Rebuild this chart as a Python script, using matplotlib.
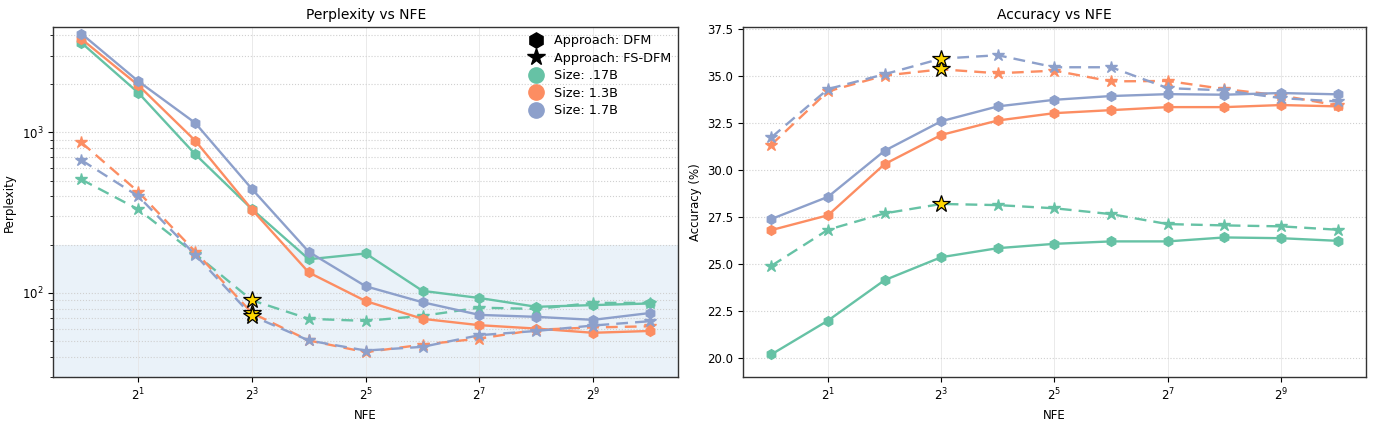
import matplotlib
matplotlib.use("Agg")
import matplotlib.pyplot as plt
from matplotlib.lines import Line2D
import numpy as np

nfe = [1, 2, 4, 8, 16, 32, 64, 128, 256, 512, 1024]
sizes = [".17B", "1.3B", "1.7B"]
colors = {".17B": "#66c2a5", "1.3B": "#fc8d62", "1.7B": "#8da0cb"}

ppl_dfm = {
    ".17B": [3600, 1760, 730, 332, 162, 176, 103, 93, 82, 84, 86],
    "1.3B": [3800, 1960, 887, 330, 134, 89, 69, 63, 60, 56.5, 58],
    "1.7B": [4100, 2075, 1143, 443, 180, 110, 87.5, 73, 71, 68, 75],
}
ppl_fs = {
    ".17B": [508, 331, 175, 90, 69, 67, 72, 81, 79.5, 86.7, 86.7],
    "1.3B": [863, 426, 181, 75, 50.6, 42.8, 47.7, 52, 59, 61, 62],
    "1.7B": [670, 400, 173, 72, 50.6, 43.8, 46.2, 54.6, 58, 62.7, 66.7],
}
acc_dfm = {
    ".17B": [20.2, 22.0, 24.15, 25.37, 25.85, 26.08, 26.21, 26.21, 26.42, 26.38, 26.24],
    "1.3B": [26.81, 27.6, 30.32, 31.87, 32.64, 33.03, 33.19, 33.35, 33.35, 33.46, 33.39],
    "1.7B": [27.4, 28.58, 31.03, 32.6, 33.39, 33.74, 33.94, 34.04, 34.01, 34.10, 34.03],
}
acc_fs = {
    ".17B": [24.91, 26.83, 27.70, 28.2, 28.14, 27.97, 27.66, 27.13, 27.06, 27.01, 26.83],
    "1.3B": [31.35, 34.19, 35.03, 35.36, 35.15, 35.29, 34.72, 34.74, 34.31, 33.97, 33.44],
    "1.7B": [31.74, 34.31, 35.10, 35.93, 36.11, 35.47, 35.47, 34.36, 34.24, 33.83, 33.65],
}
highlight_nfe = 8

fig = plt.figure(figsize=(13.76, 4.25), dpi=100)
ax1 = fig.add_axes([0.0385, 0.113, 0.4545, 0.823])
ax2 = fig.add_axes([0.540, 0.113, 0.4527, 0.823])

def draw(ax, dfm, fs):
    for s in sizes:
        ax.plot(nfe, dfm[s], color=colors[s], marker="h", markersize=7,
                linewidth=1.7, linestyle="-", zorder=3)
        ax.plot(nfe, fs[s], color=colors[s], marker="*", markersize=9,
                linewidth=1.7, linestyle=(0, (5, 3)), zorder=3)
    hi = nfe.index(highlight_nfe)
    for s in sizes:
        ax.plot([nfe[hi]], [fs[s][hi]], marker="*", markersize=13,
                markerfacecolor="#FFD700", markeredgecolor="black",
                markeredgewidth=0.9, linestyle="none", zorder=5)
    ax.set_xscale("log", base=2)
    ax.set_xticks([2, 8, 32, 128, 512])
    ax.set_xticklabels([r"$2^{1}$", r"$2^{3}$", r"$2^{5}$", r"$2^{7}$", r"$2^{9}$"])
    ax.xaxis.set_minor_locator(matplotlib.ticker.NullLocator())
    ax.tick_params(labelsize=8.5)
    ax.set_xlabel("NFE", fontsize=8.5)
    ax.grid(True, which="major", axis="x", color="#e6e6e6", linewidth=0.6)
    for sp in ax.spines.values():
        sp.set_color("#333333")
        sp.set_linewidth(1.0)

draw(ax1, ppl_dfm, ppl_fs)
ax1.set_yscale("log")
ax1.set_ylim(30, 4500)
ax1.axhspan(30, 200, color="#d6e6f4", alpha=0.5, zorder=0, linewidth=0)
ax1.grid(True, which="both", axis="y", color="#d0d0d0", linestyle=":", linewidth=0.8)
ax1.set_ylabel("Perplexity", fontsize=8.5)
ax1.set_title("Perplexity vs NFE", fontsize=10)

draw(ax2, acc_dfm, acc_fs)
ax2.set_ylim(19.0, 37.6)
ax2.set_yticks([20.0, 22.5, 25.0, 27.5, 30.0, 32.5, 35.0, 37.5])
ax2.grid(True, which="major", axis="y", color="#d0d0d0", linestyle=":", linewidth=0.8)
ax2.set_ylabel("Accuracy (%)", fontsize=8.5)
ax2.set_title("Accuracy vs NFE", fontsize=10)

handles = [
    Line2D([], [], marker="h", color="black", linestyle="none", markersize=11),
    Line2D([], [], marker="*", color="black", linestyle="none", markersize=13),
] + [Line2D([], [], marker="o", color=colors[s], linestyle="none", markersize=11) for s in sizes]
labels = ["Approach: DFM", "Approach: FS-DFM"] + [f"Size: {s}" for s in sizes]
ax1.legend(handles, labels, loc="upper right", frameon=False, fontsize=9.2,
           handletextpad=0.4, labelspacing=0.35, borderaxespad=0.15)

fig.savefig("out.png", dpi=100)
